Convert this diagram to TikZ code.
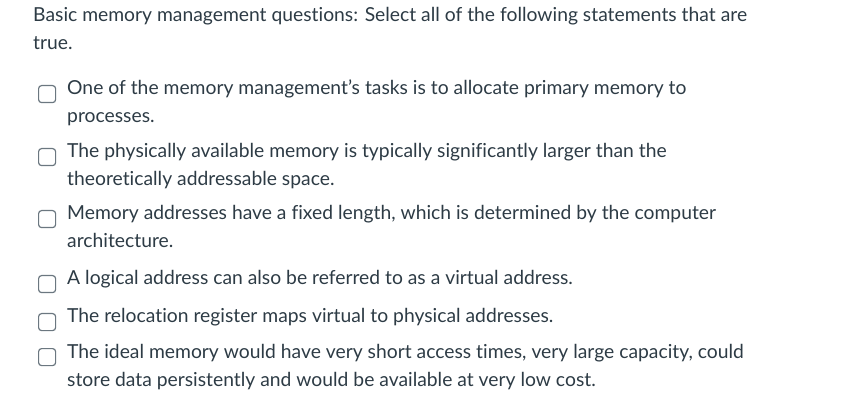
\documentclass[tikz,border=0pt]{standalone}
\usepackage{fontspec}
\setmainfont{Lato}[Ligatures=NoCommon]
\definecolor{txt}{HTML}{2D3B45}
\definecolor{boxc}{HTML}{6B7780}
\begin{document}
\begin{tikzpicture}[x=1pt,y=-1pt,
  t/.style={anchor=base west,inner sep=0pt,text=txt,font=\fontsize{19.3}{28}\selectfont},
  cb/.style={draw=boxc,line width=1.2pt,rounded corners=3pt,minimum size=17pt,inner sep=0pt,anchor=north west}]
\useasboundingbox (0,0) rectangle (864,411);
\node[t] (title) at (33,22) {Basic memory management questions: Select all of the following statements that are};
\node[t] (title2) at (33,50) {true.};
\node[cb] (b1) at (38,85) {};
\node[t] (a1) at (67,95) {One of the memory management{\char"27}s tasks is to allocate primary memory to};
\node[t] (a1b) at (67,123) {processes.};
\node[cb] (b2) at (38,148) {};
\node[t] (a2) at (67,158) {The physically available memory is typically significantly larger than the};
\node[t] (a2b) at (67,186) {theoretically addressable space.};
\node[cb] (b3) at (38,210) {};
\node[t] (a3) at (67,220) {Memory addresses have a fixed length, which is determined by the computer};
\node[t] (a3b) at (67,248) {architecture.};
\node[cb] (b4) at (38,275) {};
\node[t] (a4) at (67,285) {A logical address can also be referred to as a virtual address.};
\node[cb] (b5) at (38,313) {};
\node[t] (a5) at (67,323) {The relocation register maps virtual to physical addresses.};
\node[cb] (b6) at (38,348) {};
\node[t] (a6) at (67,358) {The ideal memory would have very short access times, very large capacity, could};
\node[t] (a6b) at (67,386) {store data persistently and would be available at very low cost.};
\end{tikzpicture}
\end{document}
